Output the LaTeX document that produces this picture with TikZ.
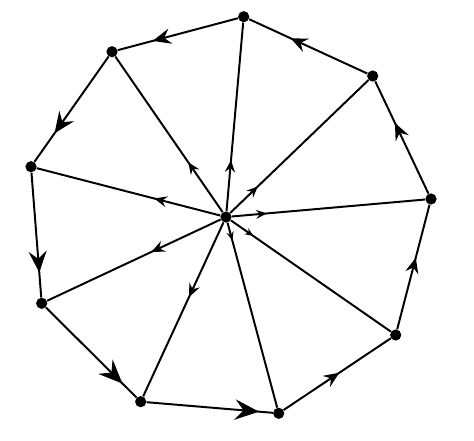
\documentclass[tikz,border=0pt]{standalone}
\usepackage{tikz}
\usetikzlibrary{arrows.meta,decorations.markings}
\tikzstyle{vertex} = [circle,fill=black,inner sep=0pt,minimum size=0.28cm]
\tikzstyle{link} = [line width=1.4pt]
\tikzset{flow/.style 2 args={link,postaction={decorate},
  decoration={markings,mark=at position #1 with {\arrow{Stealth[length=#2pt,width'=0pt 0.85,inset'=0pt 0.35]}}}}}

\begin{document}
\begin{tikzpicture}[x=0.025cm,y=-0.025cm]
\useasboundingbox (0,0) rectangle (474,441);

% vertices
\node[vertex] (c) at (226,217) {};
\node[vertex] (v1) at (243.7,16.7) {};
\node[vertex] (v2) at (372.7,76) {};
\node[vertex] (v3) at (431,199) {};
\node[vertex] (v4) at (395.7,335) {};
\node[vertex] (v5) at (278.7,413.3) {};
\node[vertex] (v6) at (140.7,401.7) {};
\node[vertex] (v7) at (41.7,303.3) {};
\node[vertex] (v8) at (31,166.7) {};
\node[vertex] (v9) at (112,51.7) {};

% spokes
\draw[flow={0.27}{8.5}] (c) -- (v1);
\draw[flow={0.2}{8}] (c) -- (v2);
\draw[flow={0.18}{7.5}] (c) -- (v3);
\draw[flow={0.14}{6}] (c) -- (v4);
\draw[flow={0.095}{6}] (c) -- (v5);
\draw[flow={0.43}{9.5}] (c) -- (v6);
\draw[flow={0.40}{9.5}] (c) -- (v7);
\draw[flow={0.36}{9}] (c) -- (v8);
\draw[flow={0.32}{8.5}] (c) -- (v9);

% rim
\draw[flow={0.71}{13}] (v1) -- (v9);
\draw[flow={0.73}{15}] (v9) -- (v8);
\draw[flow={0.80}{15}] (v8) -- (v7);
\draw[flow={0.845}{17}] (v7) -- (v6);
\draw[flow={0.89}{17}] (v6) -- (v5);
\draw[flow={0.52}{11}] (v5) -- (v4);
\draw[flow={0.575}{11}] (v4) -- (v3);
\draw[flow={0.63}{12}] (v3) -- (v2);
\draw[flow={0.65}{12}] (v2) -- (v1);
\end{tikzpicture}
\end{document}
